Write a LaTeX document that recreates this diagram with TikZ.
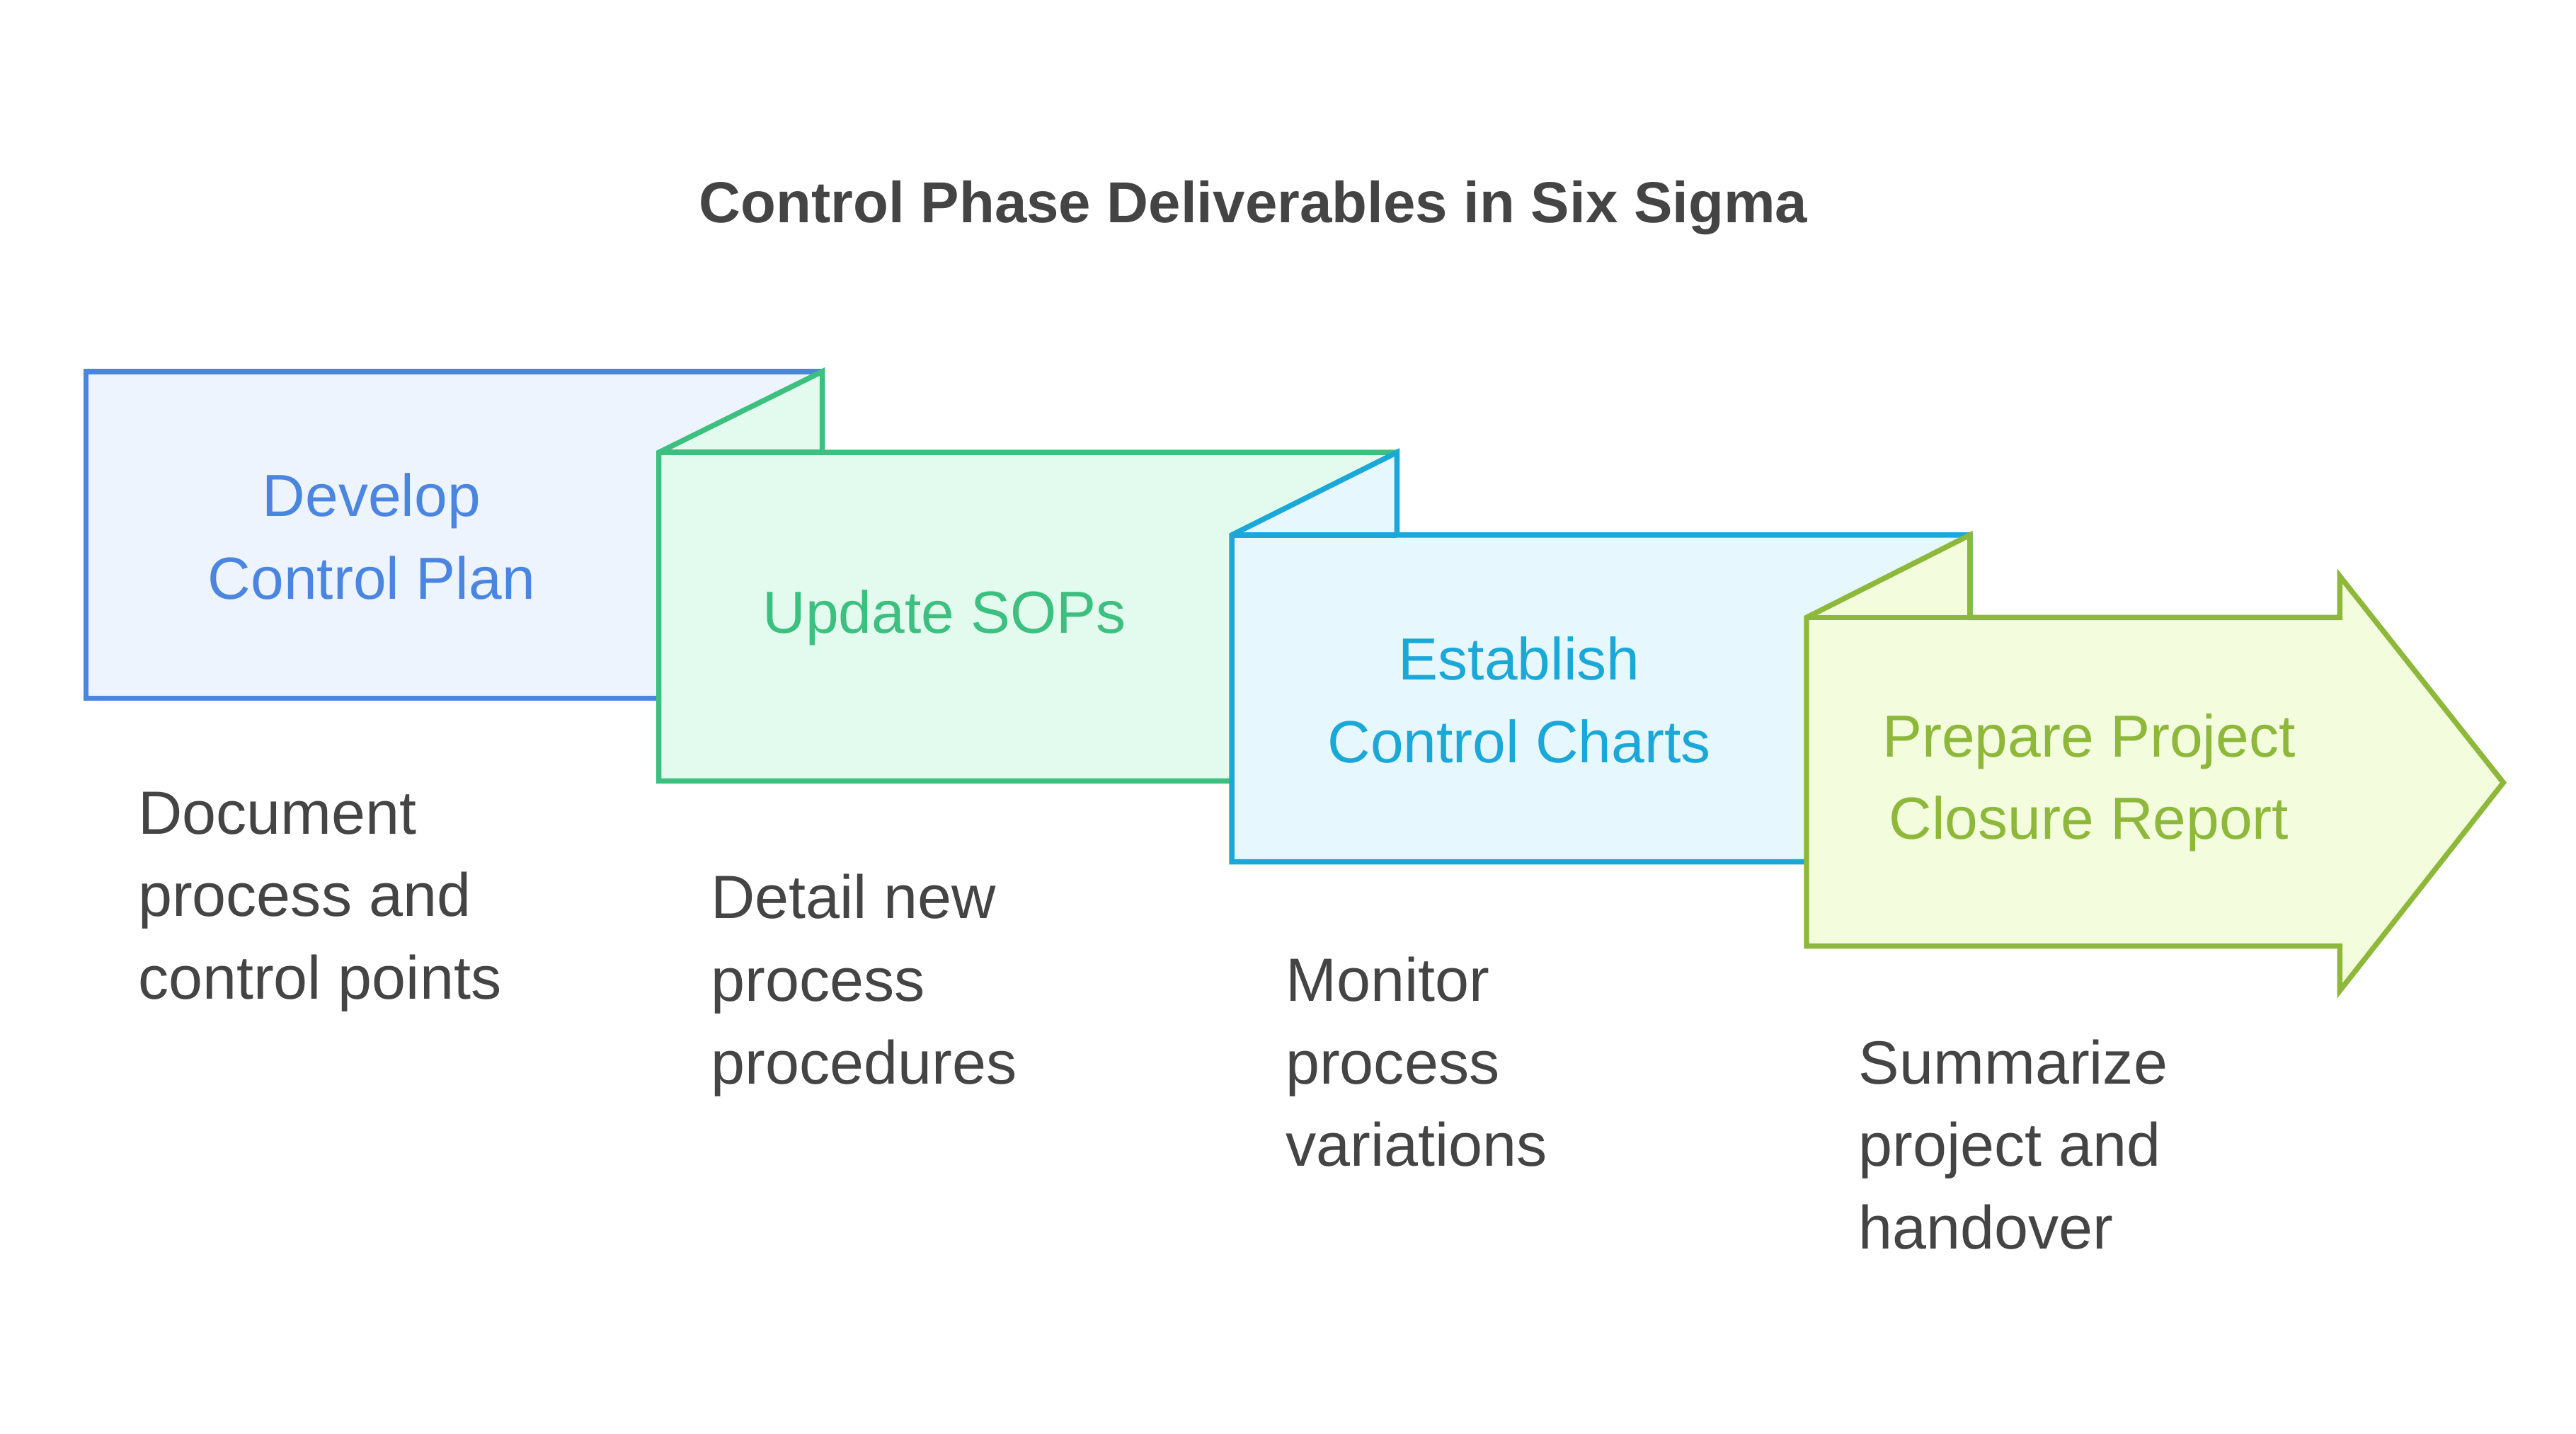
\documentclass[tikz,border=0pt]{standalone}
\usepackage{fontspec}
\setmainfont{Liberation Sans}
\definecolor{cb}{HTML}{4A86E0}\definecolor{fb}{HTML}{EEF4FE}
\definecolor{cg}{HTML}{3CC07F}\definecolor{fg}{HTML}{E3FBEF}
\definecolor{cc}{HTML}{1AA8D8}\definecolor{fc}{HTML}{E6F7FD}
\definecolor{co}{HTML}{8DB83A}\definecolor{fo}{HTML}{F3FCDD}
\definecolor{tx}{HTML}{444444}
\begin{document}
\begin{tikzpicture}[x=0.5pt,y=-0.5pt,line width=1.6pt,line join=miter,
  head/.style={font=\fontsize{18}{25}\selectfont,align=center},
  desc/.style={font=\fontsize{18.5}{25}\selectfont,text=tx,align=left,anchor=north west,inner sep=0pt}]
\useasboundingbox (0,0) rectangle (1560,868.5);
\node[font=\bfseries\fontsize{17.5}{20}\selectfont,text=tx] (title) at (759,126) {Control Phase Deliverables in Six Sigma};
% box1
\draw[cb,fill=fb] (52,225) rectangle (498,423);
% box2
\draw[cg,fill=fg] (399,274) -- (498,225) -- (498,274) -- (846,274) -- (846,473) -- (399,473) -- cycle;
\draw[cg] (498,274) -- (399,274);
% box3
\draw[cc,fill=fc] (746,324) -- (846,274) -- (846,324) -- (1193,324) -- (1193,522) -- (746,522) -- cycle;
\draw[cc] (846,324) -- (746,324);
% box4
\draw[co,fill=fo] (1094,374) -- (1193,324) -- (1193,374) -- (1417,374) -- (1417,349) -- (1516,474) -- (1417,600) -- (1417,573) -- (1094,573) -- cycle;
\draw[co] (1193,374) -- (1094,374);
\node[head,text=cb] (h1) at (225,325) {Develop\\Control Plan};
\node[head,text=cg] (h2) at (572,374) {Update SOPs};
\node[head,text=cc] (h3) at (920,424) {Establish\\Control Charts};
\node[head,text=co] (h4) at (1265,474) {Prepare Project\\Closure Report};
\node[desc] (d1) at (82,478) {Document\\process and\\control points};
\node[desc] (d2) at (429,528) {Detail new\\process\\procedures};
\node[desc] (d3) at (777,578) {Monitor\\process\\variations};
\node[desc] (d4) at (1124,628) {Summarize\\project and\\handover};
\end{tikzpicture}
\end{document}
